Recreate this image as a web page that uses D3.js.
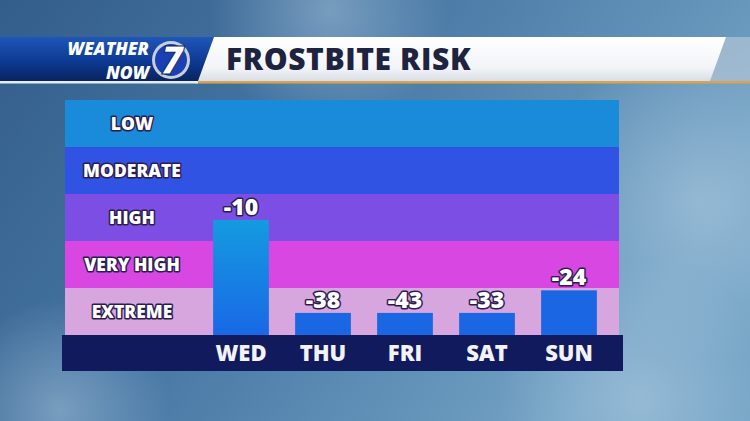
<!DOCTYPE html>
<html>
<head>
<meta charset="utf-8">
<script src="https://cdn.jsdelivr.net/npm/d3@7"></script>
<style>
  html, body { margin: 0; padding: 0; background: #3f6d98; }
  svg { display: block; font-family: "Open Sans", "DejaVu Sans", sans-serif; }
  .shadow-text { paint-order: stroke; stroke: #2b1d4f; stroke-width: 3px; stroke-linejoin: round; }
</style>
</head>
<body>
<div id="chart"></div>
<script>
// Risk categories, top to bottom
const riskLevels = ["LOW", "MODERATE", "HIGH", "VERY HIGH", "EXTREME"];
const riskColours = ["#1a8bd9", "#3153e3", "#7c4ee4", "#d847e2", "#d7a6de"];

// Days and the forecast wind chill values
const days = ["WED", "THU", "FRI", "SAT", "SUN"];
const windChill = [-10, -38, -43, -33, -24];
// Where each bar tops out, in risk-level units (0 = middle of LOW, 4 = middle of EXTREME)
const riskIndex = [2.05, 4.03, 4.03, 4.03, 3.55];

const width = 750;
const height = 421;

const svg = d3.select("#chart")
  .append("svg")
  .attr("width", width)
  .attr("height", height);

const defs = svg.append("defs");

// Background gradient (frosty blue)
const bgGrad = defs.append("linearGradient")
  .attr("id", "bg-grad")
  .attr("x1", "0").attr("y1", "0").attr("x2", "1").attr("y2", "0.4");
bgGrad.append("stop").attr("offset", "0%").attr("stop-color", "#335d8a");
bgGrad.append("stop").attr("offset", "45%").attr("stop-color", "#4676a3");
bgGrad.append("stop").attr("offset", "100%").attr("stop-color", "#74a3c5");

const frost = defs.append("radialGradient").attr("id", "frost");
frost.append("stop").attr("offset", "0%").attr("stop-color", "#c6dcec").attr("stop-opacity", 0.4);
frost.append("stop").attr("offset", "100%").attr("stop-color", "#c6dcec").attr("stop-opacity", 0);

// Header gradients
const blueGrad = defs.append("linearGradient")
  .attr("id", "blue-grad").attr("x1", 0).attr("y1", 0).attr("x2", 0).attr("y2", 1);
blueGrad.append("stop").attr("offset", "0%").attr("stop-color", "#1f56b8");
blueGrad.append("stop").attr("offset", "55%").attr("stop-color", "#0d3a94");
blueGrad.append("stop").attr("offset", "100%").attr("stop-color", "#08245e");

const whiteGrad = defs.append("linearGradient")
  .attr("id", "white-grad").attr("x1", 0).attr("y1", 0).attr("x2", 0).attr("y2", 1);
whiteGrad.append("stop").attr("offset", "0%").attr("stop-color", "#ffffff");
whiteGrad.append("stop").attr("offset", "70%").attr("stop-color", "#f2f4f8");
whiteGrad.append("stop").attr("offset", "100%").attr("stop-color", "#d9dee6");

const barGrad = defs.append("linearGradient")
  .attr("id", "bar-grad").attr("x1", 0).attr("y1", 0).attr("x2", 0).attr("y2", 1);
barGrad.append("stop").attr("offset", "0%").attr("stop-color", "#149be0");
barGrad.append("stop").attr("offset", "100%").attr("stop-color", "#1a68e6");

// Background
svg.append("rect")
  .attr("width", width)
  .attr("height", height)
  .attr("fill", "url(#bg-grad)");

// a few soft frost patches
const frostPatches = [
  { cx: 700, cy: 200, r: 160 },
  { cx: 640, cy: 400, r: 140 },
  { cx: 330, cy: 10, r: 120 },
  { cx: 60, cy: 410, r: 110 },
];
svg.selectAll(".frost")
  .data(frostPatches)
  .join("circle")
  .attr("class", "frost")
  .attr("cx", (d) => d.cx)
  .attr("cy", (d) => d.cy)
  .attr("r", (d) => d.r)
  .attr("fill", "url(#frost)");

// Header bar
const header = svg.append("g").attr("class", "header");

header.append("path")
  .attr("d", "M712,37 L750,37 L750,83 L694,83 Z")
  .attr("fill", "#a9bfd3")
  .attr("opacity", 0.8);

header.append("path")
  .attr("d", "M213,37 L726,37 L710,81 L195,81 Z")
  .attr("fill", "url(#white-grad)");

header.append("rect")
  .attr("x", 195).attr("y", 81).attr("width", 555).attr("height", 2.5)
  .attr("fill", "#d9a351");

header.append("path")
  .attr("d", "M0,37 L214,37 L198,81 L0,81 Z")
  .attr("fill", "url(#blue-grad)");

header.append("rect")
  .attr("x", 0).attr("y", 81).attr("width", 198).attr("height", 2.5)
  .attr("fill", "#e6ecf5");

// two-line station name
const stationStyle = (sel) => sel
  .attr("text-anchor", "end")
  .attr("font-size", 17.5)
  .attr("font-weight", 800)
  .attr("font-style", "italic")
  .attr("fill", "#ffffff");

header.append("text")
  .call(stationStyle)
  .attr("x", 149).attr("y", 55)
  .text("WEATHER");

header.append("text")
  .call(stationStyle)
  .attr("x", 149).attr("y", 79)
  .text("NOW");

// channel 7 logo
const logo = header.append("g").attr("transform", "translate(171,60)");
logo.append("circle").attr("r", 19).attr("fill", "#c9ced8");
logo.append("circle").attr("r", 16).attr("fill", "#1b3fb5");
logo.append("text")
  .attr("x", 1).attr("y", 14)
  .attr("text-anchor", "middle")
  .attr("font-size", 38)
  .attr("font-weight", 800)
  .attr("font-style", "italic")
  .attr("fill", "#ffffff")
  .attr("stroke", "#0b1f5c")
  .attr("stroke-width", 1)
  .text("7");

header.append("text")
  .attr("x", 226).attr("y", 70)
  .attr("font-size", 30)
  .attr("font-weight", 800)
  .attr("letter-spacing", 0.6)
  .attr("fill", "#1e2340")
  .text("FROSTBITE RISK");

// Chart area
const chartLeft = 65;
const chartRight = 619;
const chartTop = 100;
const chartBottom = 335;

const yBand = d3.scaleBand()
  .domain(riskLevels)
  .range([chartTop, chartBottom]);

const yRisk = d3.scaleLinear()
  .domain([0, riskLevels.length - 1])
  .range([yBand(riskLevels[0]) + yBand.bandwidth() / 2,
          yBand(riskLevels[riskLevels.length - 1]) + yBand.bandwidth() / 2]);

const xScale = d3.scaleBand()
  .domain(days)
  .range([200, 610])
  .paddingInner(0.32)
  .paddingOuter(0.16);

const chart = svg.append("g").attr("class", "chart");

// risk bands
chart.selectAll(".band")
  .data(riskLevels)
  .join("rect")
  .attr("class", "band")
  .attr("x", chartLeft)
  .attr("y", (d) => yBand(d))
  .attr("width", chartRight - chartLeft)
  .attr("height", yBand.bandwidth() + 0.5)
  .attr("fill", (d, i) => riskColours[i]);

// risk labels
chart.selectAll(".band-label")
  .data(riskLevels)
  .join("text")
  .attr("class", "band-label shadow-text")
  .attr("x", 132)
  .attr("y", (d) => yBand(d) + yBand.bandwidth() / 2)
  .attr("dy", "0.36em")
  .attr("text-anchor", "middle")
  .attr("font-size", 17.5)
  .attr("font-weight", 800)
  .attr("fill", "#ffffff")
  .text((d) => d);

const dayData = days.map((day, i) => ({ day, value: windChill[i], risk: riskIndex[i] }));

// bars
chart.selectAll(".bar")
  .data(dayData)
  .join("rect")
  .attr("class", "bar")
  .attr("x", (d) => xScale(d.day))
  .attr("y", (d) => yRisk(d.risk))
  .attr("width", xScale.bandwidth())
  .attr("height", (d) => chartBottom - yRisk(d.risk))
  .attr("fill", (d, i) => (i === 0 ? "url(#bar-grad)" : "#1a66e3"));

// value labels
chart.selectAll(".value-label")
  .data(dayData)
  .join("text")
  .attr("class", "value-label shadow-text")
  .attr("x", (d) => xScale(d.day) + xScale.bandwidth() / 2)
  .attr("y", (d) => yRisk(d.risk) - 5)
  .attr("text-anchor", "middle")
  .attr("font-size", 23)
  .attr("font-weight", 800)
  .attr("fill", "#ffffff")
  .text((d) => d.value);

// bottom day bar
chart.append("rect")
  .attr("x", 62)
  .attr("y", chartBottom)
  .attr("width", 561)
  .attr("height", 36)
  .attr("fill", "#101a5c");

chart.selectAll(".day-label")
  .data(days)
  .join("text")
  .attr("class", "day-label")
  .attr("x", (d) => xScale(d) + xScale.bandwidth() / 2)
  .attr("y", chartBottom + 18)
  .attr("dy", "0.36em")
  .attr("text-anchor", "middle")
  .attr("font-size", 22)
  .attr("font-weight", 800)
  .attr("fill", "#f2f2f8")
  .text((d) => d);
</script>
</body>
</html>
